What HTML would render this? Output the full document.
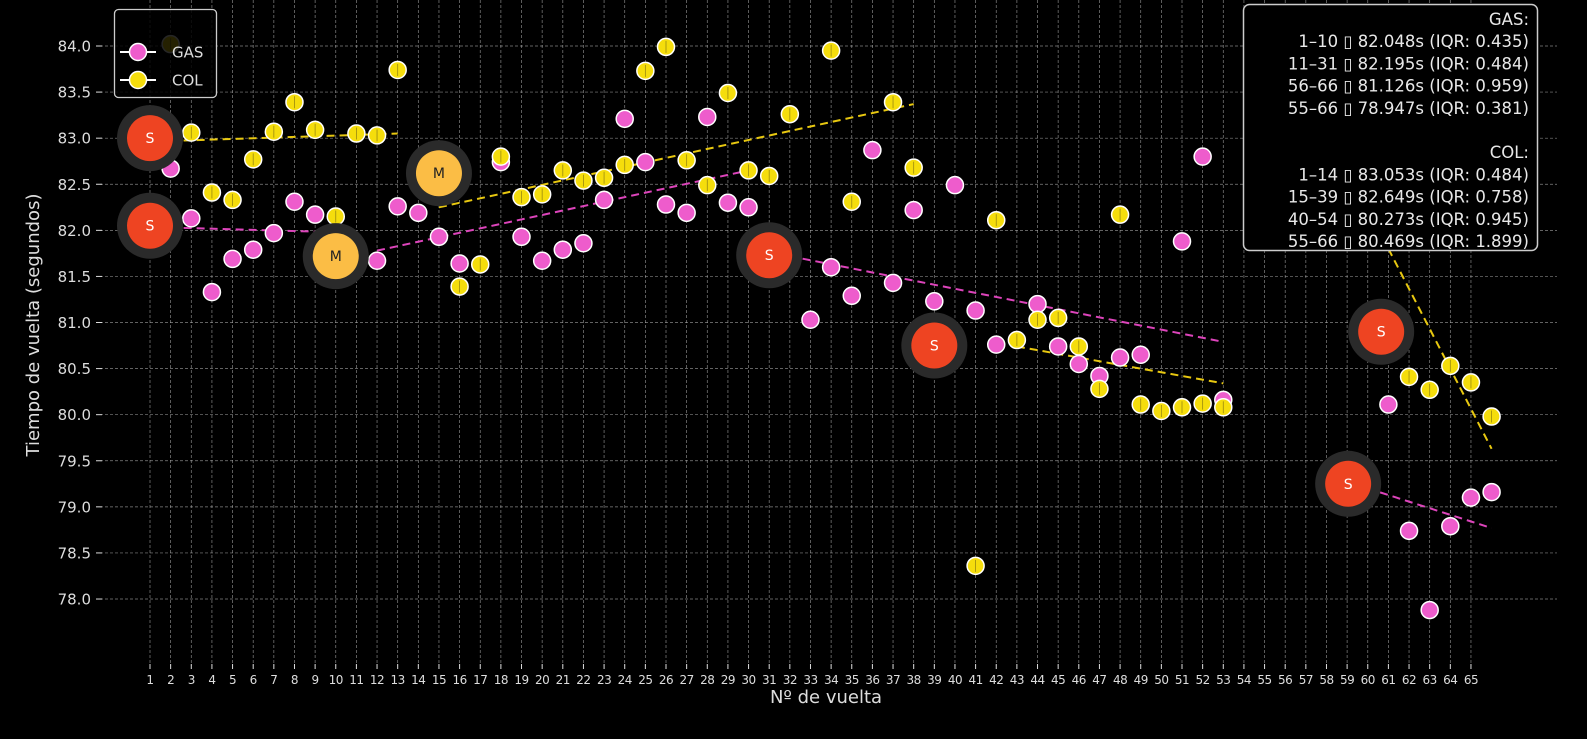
<!DOCTYPE html>
<html><head><meta charset="utf-8"><style>
html,body{margin:0;padding:0;background:#000;width:1587px;height:739px;overflow:hidden}
svg{display:block;font-family:"DejaVu Sans","Liberation Sans",sans-serif}
</style></head><body>
<svg id="chart" width="1587" height="739" viewBox="0 0 1587 739" xmlns="http://www.w3.org/2000/svg"></svg>
<script>
const gasLaps=[2,3,4,5,6,7,8,9,12,13,14,15,16,18,19,20,21,22,23,24,25,26,27,28,29,30,33,34,35,36,37,38,39,40,41,42,44,45,46,47,48,49,51,52,53,61,62,63,64,65,66];
const gasTimes=[82.67,82.13,81.33,81.69,81.79,81.97,82.31,82.17,81.67,82.26,82.19,81.93,81.64,82.74,81.93,81.67,81.79,81.86,82.33,83.21,82.74,82.28,82.19,83.23,82.30,82.25,81.03,81.60,81.29,82.87,81.43,82.22,81.23,82.49,81.13,80.76,81.20,80.74,80.55,80.42,80.62,80.65,81.88,82.80,80.16,80.11,78.74,77.88,78.79,79.10,79.16];
const colLaps=[2,3,4,5,6,7,8,9,10,11,12,13,16,17,18,19,20,21,22,23,24,25,26,27,28,29,30,31,32,34,35,37,38,41,42,43,44,45,46,47,48,49,50,51,52,53,62,63,64,65,66];
const colTimes=[84.02,83.06,82.41,82.33,82.77,83.07,83.39,83.09,82.15,83.05,83.03,83.74,81.39,81.63,82.80,82.36,82.39,82.65,82.54,82.57,82.71,83.73,83.99,82.76,82.49,83.49,82.65,82.59,83.26,83.95,82.31,83.39,82.68,78.36,82.11,80.81,81.03,81.05,80.74,80.28,82.17,80.11,80.04,80.08,80.12,80.08,80.41,80.27,80.53,80.35,79.98];
const gasTrendX=[[2,10],[12,30],[32,53],[60,66]];
const gasTrendY=[[82.03,81.98],[81.78,82.65],[81.72,80.79],[79.20,78.77]];
const colTrendX=[[2,13],[15,38],[43,53],[61,66]];
const colTrendY=[[82.97,83.05],[82.25,83.37],[80.74,80.34],[81.80,79.63]];
const stopLaps=[1,1,10,15,31,39,60.65,59.05];
const stopTimes=[83.0,82.05,81.72,82.62,81.73,80.75,80.9,79.25];
const stopTypes=['S','S','M','M','S','S','S','S'];
const yTicks=[78.0,78.5,79.0,79.5,80.0,80.5,81.0,81.5,82.0,82.5,83.0,83.5,84.0];
const statsGas=["1–10 ▯ 82.048s (IQR: 0.435)","11–31 ▯ 82.195s (IQR: 0.484)","56–66 ▯ 81.126s (IQR: 0.959)","55–66 ▯ 78.947s (IQR: 0.381)"];
const statsCol=["1–14 ▯ 83.053s (IQR: 0.484)","15–39 ▯ 82.649s (IQR: 0.758)","40–54 ▯ 80.273s (IQR: 0.945)","55–66 ▯ 80.469s (IQR: 1.899)"];

const NS="http://www.w3.org/2000/svg";
const svg=document.getElementById('chart');
const X=l=>150+(l-1)*20.64;
const Y=v=>46+(84-v)*92.17;
function mk(tag,attrs,parent){const e=document.createElementNS(NS,tag);for(const k in attrs)e.setAttribute(k,attrs[k]);(parent||svg).appendChild(e);return e;}

const grid=mk('g',{});


for(let l=1;l<=65;l++){
  mk('line',{x1:X(l),x2:X(l),y1:0,y2:666,stroke:'#bbb','stroke-width':0.7,'stroke-dasharray':'3,2',opacity:0.7},grid);
  mk('line',{x1:X(l),x2:X(l),y1:664,y2:669,stroke:'#ddd','stroke-width':1},grid);
  const t=mk('text',{x:X(l),y:684,'text-anchor':'middle','font-size':12,fill:'#ddd','letter-spacing':'-0.5'},grid);
  t.textContent=l;
  
  
}
yTicks.forEach(v=>{
  mk('line',{x1:100,x2:1557,y1:Y(v),y2:Y(v),stroke:'#bbb','stroke-width':0.7,'stroke-dasharray':'3,2',opacity:0.7},grid);
  mk('line',{x1:96,x2:102,y1:Y(v),y2:Y(v),stroke:'#ddd','stroke-width':1},grid);
  const t=mk('text',{x:91,y:Y(v)+5.5,'text-anchor':'end','font-size':15,fill:'#ddd'},grid);
  t.textContent=v.toFixed(1);
  
  
});

function trends(xs,ys,color,name){
  xs.forEach((p,i)=>{
    const l=mk('line',{x1:X(p[0]),x2:X(p[1]),y1:Y(ys[i][0]),y2:Y(ys[i][1]),stroke:color,'stroke-width':2,'stroke-dasharray':'8,5'});
    
    
  });
}
trends(gasTrendX,gasTrendY,'#dd44bb','gas-trend-line');
trends(colTrendX,colTrendY,'#e8c810','col-trend-line');

function pts(ls,ts,fill,name,bar){
  ls.forEach((l,i)=>{
    const c=mk('circle',{cx:X(l),cy:Y(ts[i]),r:8.5,fill:fill,stroke:'#fff','stroke-width':1.5});
    
    
    if(bar) mk('line',{x1:X(l),x2:X(l),y1:Y(ts[i])-6,y2:Y(ts[i])+6,stroke:'#9a8a10','stroke-width':0.8});
  });
}
pts(gasLaps,gasTimes,'#ee5ccc','gas-point',false);
pts(colLaps,colTimes,'#f5dd0c','col-point',true);

stopLaps.forEach((l,i)=>{
  const g=mk('g',{});
  
  
  mk('circle',{cx:X(l),cy:Y(stopTimes[i]),r:33,fill:'#2a2a2a'},g);
  mk('circle',{cx:X(l),cy:Y(stopTimes[i]),r:23,fill:stopTypes[i]==='S'?'#ee4422':'#fbbd45'},g);
  const t=mk('text',{x:X(l),y:Y(stopTimes[i])+5,'text-anchor':'middle','font-size':14,fill:stopTypes[i]==='S'?'#fff':'#222'},g);
  t.textContent=stopTypes[i];
});

const lg=mk('g',{});


mk('rect',{x:114.5,y:9.5,width:102,height:88,rx:4,fill:'#000',stroke:'#ccc','stroke-width':1.3,'fill-opacity':0.85},lg);
[['GAS','#ee5ccc',52],['COL','#f5dd0c',80]].forEach(e=>{
  const eg=mk('g',{},lg);
  
  
  mk('line',{x1:120,x2:156,y1:e[2],y2:e[2],stroke:'#fff','stroke-width':2},eg);
  mk('circle',{cx:138,cy:e[2],r:8.5,fill:e[1],stroke:'#fff','stroke-width':1.5},eg);
  const t=mk('text',{x:172,y:e[2]+5.5,'font-size':15,fill:'#ddd'},eg);
  t.textContent=e[0];
});

const sb=mk('g',{});


mk('rect',{x:1243.5,y:4.5,width:294,height:246,rx:6,fill:'#000',stroke:'#ccc','stroke-width':1.5},sb);
const lines=['GAS:',...statsGas,'','COL:',...statsCol];
lines.forEach((s,i)=>{
  const t=mk('text',{x:1529,y:25+i*22.2,'text-anchor':'end','font-size':16.5,fill:'#e8e8e8'},sb);
  t.textContent=s;
});

const xl=mk('text',{x:826,y:703,'text-anchor':'middle','font-size':18,fill:'#ddd'});
xl.textContent='Nº de vuelta';


const yl=mk('text',{x:0,y:0,'text-anchor':'middle','font-size':18,fill:'#ddd',transform:'translate(39,325) rotate(-90)'});
yl.textContent='Tiempo de vuelta (segundos)';


</script>
</body></html>
